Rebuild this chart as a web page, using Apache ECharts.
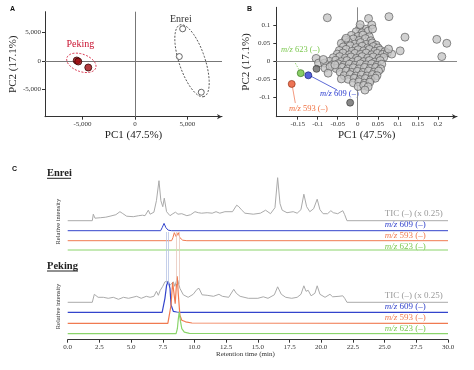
<!DOCTYPE html>
<html><head><meta charset="utf-8">
<script src="https://cdn.jsdelivr.net/npm/echarts@6/dist/echarts.min.js"></script>
<style>html,body{margin:0;padding:0;background:#fff}#c{width:474px;height:370px}</style>
</head><body><div id="c"></div>
<script>
// ---------- Panel A : PCA scores ----------
const enreiScores = [[4540,5600],[4220,750],[6310,-5490]];
const pekingScores = [[-5550,60],[-5400,-120],[-4450,-1170]];
const scoreTicksX = [-5000,0,5000];
const scoreTicksY = [-5000,0,5000];

// ---------- Panel B : loadings ----------
const loadingsGray = [
 [0.005,0.092],[0.021,0.088],
 [-0.004,0.081],[0.011,0.078],[0.026,0.083],
 [-0.016,0.071],[0.001,0.068],[0.013,0.072],[0.029,0.067],
 [-0.031,0.058],[-0.011,0.061],[0.004,0.057],[0.019,0.062],[0.033,0.056],
 [-0.041,0.049],[-0.023,0.052],[-0.007,0.047],[0.007,0.051],[0.021,0.046],[0.036,0.05],[0.046,0.044],
 [-0.036,0.039],[-0.019,0.042],[-0.004,0.037],[0.011,0.041],[0.025,0.036],[0.039,0.04],[0.051,0.036],
 [-0.046,0.029],[-0.029,0.032],[-0.014,0.027],[0.001,0.031],[0.015,0.028],[0.029,0.032],[0.043,0.027],[0.056,0.03],[0.068,0.026],
 [-0.051,0.019],[-0.037,0.022],[-0.021,0.017],[-0.007,0.021],[0.007,0.018],[0.021,0.022],[0.035,0.017],[0.049,0.021],[0.062,0.018],[0.074,0.022],
 [-0.061,0.009],[-0.045,0.012],[-0.031,0.008],[-0.017,0.011],[-0.003,0.007],[0.011,0.012],[0.025,0.008],[0.039,0.011],[0.053,0.007],[0.065,0.01],
 [-0.071,-0.001],[-0.055,0.002],[-0.041,-0.002],[-0.027,0.001],[-0.013,-0.003],[0.001,0.002],[0.015,-0.002],[0.029,0.001],[0.043,-0.003],[0.056,0.001],
 [-0.064,-0.011],[-0.049,-0.008],[-0.035,-0.012],[-0.021,-0.009],[-0.007,-0.012],[0.007,-0.008],[0.021,-0.011],[0.035,-0.008],[0.048,-0.012],[0.06,-0.009],
 [-0.054,-0.021],[-0.039,-0.018],[-0.025,-0.022],[-0.011,-0.019],[0.003,-0.022],[0.017,-0.018],[0.031,-0.021],[0.045,-0.018],[0.057,-0.022],
 [-0.044,-0.031],[-0.029,-0.028],[-0.015,-0.032],[-0.001,-0.029],[0.013,-0.032],[0.027,-0.028],[0.041,-0.031],[0.052,-0.028],
 [-0.034,-0.041],[-0.019,-0.038],[-0.005,-0.042],[0.009,-0.039],[0.023,-0.042],[0.037,-0.038],[0.048,-0.041],
 [-0.024,-0.051],[-0.009,-0.048],[0.005,-0.052],[0.019,-0.049],[0.033,-0.052],[0.044,-0.048],
 [-0.011,-0.061],[0.003,-0.058],[0.017,-0.062],[0.03,-0.059],
 [0.001,-0.071],[0.015,-0.068],[0.026,-0.072],
 [0.018,-0.081],
 [0.006,0.101],[0.027,0.118],[0.035,0.1],[0.037,0.089],[0.078,0.123],[-0.076,0.12],[-0.029,0.063],
 [0.085,0.019],[0.077,0.033],[0.106,0.028],[0.118,0.066],[0.1975,0.06],[0.2225,0.049],[0.21,0.012],
 [-0.104,0.007],[-0.098,-0.006],[-0.083,-0.006],[-0.082,-0.02],[-0.069,-0.016],[-0.074,-0.034],
 [-0.057,-0.011],[-0.041,-0.05],[-0.086,0.004]
];
const loadingsDark = [[-0.019,-0.116],[-0.103,-0.022]];
const mz609Loading = [[-0.1235,-0.040]];
const mz593Loading = [[-0.165,-0.064]];
const mz623Loading = [[-0.1425,-0.034]];
const loadTicksX = [-0.15,-0.1,-0.05,0,0.05,0.1,0.15,0.2];
const loadTicksY = [-0.1,-0.05,0,0.05,0.1];

// ---------- Panel C : chromatograms [time (min), relative intensity] ----------
const enreiTIC = [[0,0],[1.94,0],[2.02,6.5],[2.15,2.5],[2.6,3],[3.0,3.5],[3.34,4.5],[3.8,6],[4.12,9],[4.3,7.5],[4.65,4.5],[5.17,4],[5.6,5],[5.9,5.5],[6.1,5],[6.36,10.5],[6.5,6.5],[6.8,8.5],[7.0,20],[7.2,40],[7.35,20],[7.5,14],[7.62,22.5],[7.8,9],[8.07,5],[8.3,7],[8.5,8.5],[8.7,6.5],[9.0,7],[9.4,5],[9.7,6],[10.04,9],[10.3,8],[10.56,7.5],[11.0,8],[11.4,7.5],[11.7,9],[12.0,7.5],[12.4,9],[13.0,9],[13.33,15.5],[13.5,14],[13.7,11],[13.98,7.5],[14.64,6.5],[15.2,7.5],[15.61,10.5],[16.0,7],[16.35,13],[16.56,43],[16.75,17],[16.92,10.5],[17.3,8],[17.79,9],[18.1,7.5],[18.4,11],[18.63,26.5],[18.85,14],[19.1,9],[19.4,12],[19.68,21.5],[19.9,11],[20.15,7],[20.5,7],[20.76,10],[20.95,8],[21.3,7],[21.7,10],[21.85,6],[22.03,0],[30,0]];
const enrei609 = [[0,0],[7.33,0],[7.45,3],[7.6,7.3],[7.75,3],[7.93,0.5],[8.2,0],[30,0]];
const enrei593 = [[0,0],[8.2,0],[8.3,3],[8.41,8],[8.56,4],[8.72,8],[8.85,3],[9.07,0.5],[9.4,0],[30,0]];
const enrei623 = [[0,0],[30,0]];
const pekingTIC = [[0,0],[1.94,0],[2.1,8],[2.4,5],[2.81,5],[3.2,4],[3.6,5],[4.0,3],[4.4,5],[4.8,4],[5.44,6],[5.8,4],[6.2,6],[6.5,5],[6.8,6],[7.0,11],[7.15,7],[7.3,12],[7.5,16],[7.67,20.5],[7.86,21],[8.07,17],[8.33,20.5],[8.45,16],[8.64,24],[8.85,14],[9.12,7.5],[9.5,5],[9.9,8],[10.2,13],[10.36,14],[10.6,7.5],[11.0,7],[11.5,6],[11.93,8],[12.2,6],[12.7,5],[13.1,13],[13.3,9],[13.6,6],[14.25,4],[15.0,4],[15.43,5.5],[15.8,4],[16.3,7.5],[16.56,15.5],[16.85,8],[17.2,5],[17.67,4],[18.1,5],[18.4,8],[18.63,16.5],[18.8,11],[18.97,12],[19.2,6.5],[19.5,9],[19.68,16.5],[19.9,8],[20.3,5],[20.69,8],[20.9,5.5],[21.4,6],[21.7,6.5],[21.85,4],[22.03,0],[30,0]];
const peking609 = [[0,0],[7.45,0],[7.54,1],[7.67,14],[7.8,27],[7.94,31],[8.07,24],[8.15,7.5],[8.33,1],[8.6,0.3],[9,0],[30,0]];
const peking593 = [[0,0],[7.9,0],[8.0,1.5],[8.15,18],[8.28,41],[8.4,28],[8.48,19.5],[8.56,35],[8.64,47],[8.72,30],[8.85,8],[9.0,3],[9.3,1.5],[9.8,0.3],[30,0]];
const peking623 = [[0,0],[8.55,0],[8.65,5],[8.72,14],[8.8,21.5],[8.9,12],[9.0,5],[9.2,1.5],[9.6,0.3],[30,0]];
const guideTimes = [7.75,7.95,8.57,8.77];
const rtMin = 0, rtMax = 30, rtStep = 2.5;

// ---------- layout / style ----------
const SERIF = '"Liberation Serif","Times New Roman","DejaVu Serif",serif';
const SANS = '"Liberation Sans",Arial,sans-serif';
const AX = '#333';
const C_TIC = '#aaaaaa', C_609 = '#3344cc', C_593 = '#f07a50', C_623 = '#8ad46a';
const traceOffsets = {eTIC:119, e609:109, e593:99, e623:89.7, pTIC:37.4, p609:27.4, p593:16.4, p623:6};
const guideSpan = [55.7, 107.7];

const chart = echarts.init(document.getElementById('c'), null, {renderer:'canvas'});

function valAxis(o){
  return Object.assign({
    type:'value', scale:false,
    splitLine:{show:false},
    axisLine:{show:true, onZero:false, lineStyle:{color:AX, width:1}},
    axisTick:{show:true, length:3, lineStyle:{color:AX}},
    axisLabel:{fontFamily:SERIF, fontSize:7, color:AX},
    nameTextStyle:{fontFamily:SERIF, fontSize:11, color:'#222'}
  }, o);
}
const fmtK = v => v===0 ? '0' : (v<0?'-':'') + Math.abs(v).toLocaleString('en-US');

const ellipses = [
  {center:[-5110,-350], a:15.3, b:8.7, ang:20, color:'#d8304a'},
  {center:[5430,20], a:37.8, b:13, ang:71.5, color:'#555'}
];

function offsetData(arr, off){ return arr.map(p => [p[0], p[1] + off]); }
function trace(arr, off, color, w){
  return {type:'line', xAxisIndex:2, yAxisIndex:2, data:offsetData(arr, off), showSymbol:false, symbol:'none',
    lineStyle:{color:color, width:w||1}, silent:true, z:3};
}
function mzText(x, y, num, color, fs){
  return {type:'text', x:x, y:y, style:{text:'{i|m/z} ' + num + ' (–)', fill:color, fontFamily:SERIF, fontSize:fs,
    textAlign:'left', textVerticalAlign:'middle',
    rich:{i:{fontStyle:'italic', fill:color, fontFamily:SERIF, fontSize:fs}}}};
}
function plainText(x, y, txt, color, fs, extra){
  return Object.assign({type:'text', x:x, y:y, style:Object.assign({text:txt, fill:color, fontFamily:SERIF, fontSize:fs,
    textAlign:'left', textVerticalAlign:'middle'}, extra||{})});
}

const option = {
  animation:false,
  backgroundColor:'#fff',
  grid:[
    {left:45, right:252, top:11.7, bottom:253.3},
    {left:276.3, right:17, top:7.3, bottom:253.3},
    {left:67.7, right:26, top:169.7, bottom:30.3}
  ],
  xAxis:[
    valAxis({gridIndex:0, min:-8571, max:8286, name:'PC1 (47.5%)', nameLocation:'middle', nameGap:13,
      axisLine:{show:true, onZero:false, symbol:['none','arrow'], symbolSize:[4,5], lineStyle:{color:AX}},
      axisTick:{show:true, length:3, customValues:scoreTicksX, lineStyle:{color:AX}},
      axisLabel:{fontFamily:SERIF, fontSize:7, color:AX, margin:4, customValues:scoreTicksX, formatter:fmtK}}),
    valAxis({gridIndex:1, min:-0.2035, max:0.248, name:'PC1 (47.5%)', nameLocation:'middle', nameGap:13,
      axisLine:{show:true, onZero:false, symbol:['none','arrow'], symbolSize:[4,5], lineStyle:{color:AX}},
      axisTick:{show:true, length:3, customValues:loadTicksX, lineStyle:{color:AX}},
      axisLabel:{fontFamily:SERIF, fontSize:7, color:AX, margin:4, customValues:loadTicksX, formatter:v=>String(+v.toFixed(2))}}),
    valAxis({gridIndex:2, min:rtMin, max:rtMax, interval:rtStep,
      axisTick:{show:true, length:3, lineStyle:{color:AX}},
      axisLabel:{fontFamily:SERIF, fontSize:7, color:AX, margin:4, formatter:v=>v.toFixed(1)}})
  ],
  yAxis:[
    valAxis({gridIndex:0, min:-9772, max:8596, name:'PC2 (17.1%)', nameLocation:'middle', nameGap:21,
      axisTick:{show:true, length:3, customValues:scoreTicksY, lineStyle:{color:AX}},
      axisLabel:{fontFamily:SERIF, fontSize:7, color:AX, margin:4, customValues:scoreTicksY, formatter:fmtK}}),
    valAxis({gridIndex:1, min:-0.155, max:0.149, name:'PC2 (17.1%)', nameLocation:'middle', nameGap:20,
      axisTick:{show:true, length:3, customValues:loadTicksY, lineStyle:{color:AX}},
      axisLabel:{fontFamily:SERIF, fontSize:7, color:AX, margin:6, customValues:loadTicksY, formatter:v=>String(+v.toFixed(2))}}),
    valAxis({gridIndex:2, min:0, max:170, show:false})
  ],
  series:[
    // Panel A zero lines + Enrei
    {type:'scatter', xAxisIndex:0, yAxisIndex:0, data:enreiScores, symbol:'circle', symbolSize:6, z:4,
      itemStyle:{color:'#fff', borderColor:'#444', borderWidth:1}, silent:true,
      markLine:{silent:true, symbol:'none', label:{show:false}, z:1,
        lineStyle:{color:'#777', width:1, type:'solid'}, data:[{xAxis:0},{yAxis:0}]}},
    {type:'scatter', xAxisIndex:0, yAxisIndex:0, data:pekingScores, symbol:'circle', symbolSize:7, z:4,
      itemStyle:{color:'#9e0b0f', borderColor:'#3a0505', borderWidth:1}, silent:true},
    {type:'custom', xAxisIndex:0, yAxisIndex:0, data:ellipses.map(e=>e.center), silent:true, z:3,
      renderItem:function(params, api){
        const e = ellipses[params.dataIndex];
        const c = api.coord([api.value(0), api.value(1)]);
        const phi = e.ang*Math.PI/180, pts=[];
        for(let k=0;k<=72;k++){
          const t = k/72*2*Math.PI;
          pts.push([c[0] + e.a*Math.cos(t)*Math.cos(phi) - e.b*Math.sin(t)*Math.sin(phi),
                    c[1] + e.a*Math.cos(t)*Math.sin(phi) + e.b*Math.sin(t)*Math.cos(phi)]);
        }
        return {type:'polygon', shape:{points:pts}, style:{fill:'none', stroke:e.color, lineWidth:1, lineDash:[2,1.5]}};
      }},
    // Panel B
    {type:'scatter', xAxisIndex:1, yAxisIndex:1, data:loadingsGray, symbol:'circle', symbolSize:8, z:3, silent:true,
      itemStyle:{color:'#c6c6c6', borderColor:'#505050', borderWidth:0.8},
      markLine:{silent:true, symbol:'none', label:{show:false}, z:1,
        lineStyle:{color:'#888', width:1, type:'solid'}, data:[{xAxis:0},{yAxis:0}]}},
    {type:'scatter', xAxisIndex:1, yAxisIndex:1, data:loadingsDark, symbol:'circle', symbolSize:7, z:4, silent:true,
      itemStyle:{color:'#6a6a6a', borderColor:'#333', borderWidth:0.8}},
    {type:'scatter', xAxisIndex:1, yAxisIndex:1, data:mz609Loading, symbol:'circle', symbolSize:7, z:5, silent:true,
      itemStyle:{color:'#2a3bd0', borderColor:'#101a70', borderWidth:0.8},
      markLine:{silent:true, symbol:'none', label:{show:false}, lineStyle:{color:C_609, width:0.8, type:'solid'},
        data:[[{coord:[-0.0518,-0.0806]},{coord:[-0.1168,-0.0425]}]]}},
    {type:'scatter', xAxisIndex:1, yAxisIndex:1, data:mz593Loading, symbol:'circle', symbolSize:7, z:5, silent:true,
      itemStyle:{color:'#e8512a', borderColor:'#8a2a10', borderWidth:0.8},
      markLine:{silent:true, symbol:'none', label:{show:false}, lineStyle:{color:'#f08060', width:0.8, type:'solid'},
        data:[[{coord:[-0.156,-0.117]},{coord:[-0.163,-0.073]}]]}},
    {type:'scatter', xAxisIndex:1, yAxisIndex:1, data:mz623Loading, symbol:'circle', symbolSize:7, z:5, silent:true,
      itemStyle:{color:'#6cc040', borderColor:'#2f6e1a', borderWidth:0.8},
      markLine:{silent:true, symbol:'none', label:{show:false}, lineStyle:{color:'#7cc850', width:0.8, type:[1.5,1.5]},
        data:[[{coord:[-0.156,-0.006]},{coord:[-0.146,-0.026]}]]}},
    // Panel C
    trace(enreiTIC, traceOffsets.eTIC, C_TIC),
    trace(enrei609, traceOffsets.e609, C_609),
    trace(enrei593, traceOffsets.e593, C_593),
    trace(enrei623, traceOffsets.e623, C_623),
    trace(pekingTIC, traceOffsets.pTIC, C_TIC),
    trace(peking609, traceOffsets.p609, C_609, 1.2),
    trace(peking593, traceOffsets.p593, C_593, 1.2),
    trace(peking623, traceOffsets.p623, C_623, 1.2),
    {type:'line', xAxisIndex:2, yAxisIndex:2, data:[], silent:true, z:1,
      markLine:{silent:true, symbol:'none', label:{show:false},
        data:guideTimes.map((t,i)=>[{coord:[t,guideSpan[0]], lineStyle:{color:i<2?'#b8c4e4':'#e8c8bc', width:0.8, type:'solid'}},{coord:[t,guideSpan[1]]}])}}
  ],
  graphic:[
    {type:'text', x:10, y:9, style:{text:'A', fill:'#111', fontFamily:SANS, fontWeight:'bold', fontSize:7, textVerticalAlign:'middle'}},
    {type:'text', x:247, y:9, style:{text:'B', fill:'#111', fontFamily:SANS, fontWeight:'bold', fontSize:7, textVerticalAlign:'middle'}},
    {type:'text', x:12, y:169, style:{text:'C', fill:'#111', fontFamily:SANS, fontWeight:'bold', fontSize:7, textVerticalAlign:'middle'}},
    plainText(66.5, 44.3, 'Peking', '#c8102e', 10),
    plainText(170, 19, 'Enrei', '#333', 10),
    mzText(281, 50, '623', '#7cc850', 8.5),
    mzText(320, 93.3, '609', '#2a3bd0', 8.5),
    mzText(289, 108.5, '593', '#f07040', 8.5),
    plainText(47, 173.3, 'Enrei', '#222', 10.5, {fontWeight:'bold'}),
    {type:'line', shape:{x1:47, y1:178.3, x2:71, y2:178.3}, style:{stroke:'#222', lineWidth:1}},
    plainText(47, 266, 'Peking', '#222', 10.5, {fontWeight:'bold'}),
    {type:'line', shape:{x1:47, y1:271, x2:78, y2:271}, style:{stroke:'#222', lineWidth:1}},
    {type:'text', x:58, y:221.7, rotation:Math.PI/2, style:{text:'Relative intensity', fill:'#333', fontFamily:SERIF, fontSize:6.5, textAlign:'center', textVerticalAlign:'middle'}},
    {type:'text', x:58, y:306.5, rotation:Math.PI/2, style:{text:'Relative intensity', fill:'#333', fontFamily:SERIF, fontSize:6.5, textAlign:'center', textVerticalAlign:'middle'}},
    plainText(384.7, 214, 'TIC (–) (x 0.25)', '#9a9a9a', 9),
    mzText(384.7, 225, '609', C_609, 9),
    mzText(384.7, 235.7, '593', C_593, 9),
    mzText(384.7, 246.3, '623', '#7cc850', 9),
    plainText(384.7, 296, 'TIC (–) (x 0.25)', '#9a9a9a', 9),
    mzText(384.7, 307, '609', C_609, 9),
    mzText(384.7, 318, '593', C_593, 9),
    mzText(384.7, 328.3, '623', '#7cc850', 9),
    plainText(216, 354.5, 'Retention time (min)', '#333', 7)
  ]
};
chart.setOption(option);
</script></body></html>
